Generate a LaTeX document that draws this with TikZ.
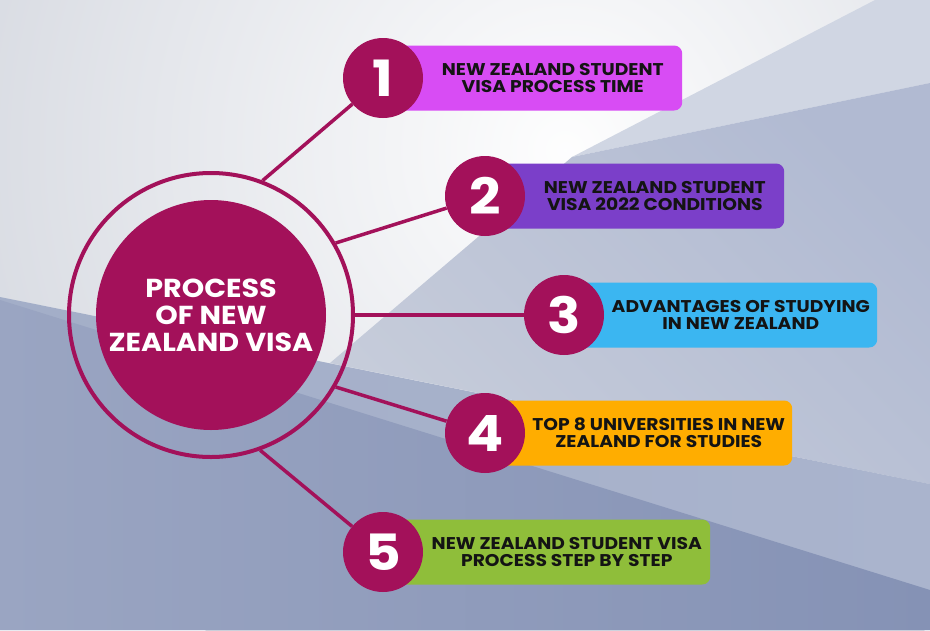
\documentclass[tikz,border=0pt]{standalone}
\usepackage{fontspec}
\setmainfont{Poppins}[FakeStretch=1.1]
\usepackage{xcolor}
\usetikzlibrary{positioning, calc}

\definecolor{ringc}{HTML}{A3115A}
\definecolor{box1}{HTML}{D84CF4}
\definecolor{box2}{HTML}{7B3FC9}
\definecolor{box3}{HTML}{3BB6F1}
\definecolor{box4}{HTML}{FFAD00}
\definecolor{box5}{HTML}{8FBE3A}
\definecolor{bgA}{HTML}{D9DCE3}
\definecolor{bgB}{HTML}{D0D6E3}
\definecolor{bgH}{HTML}{C6CCDA}
\definecolor{bgC}{HTML}{B1BAD2}
\definecolor{bgD}{HTML}{A3AEC8}
\definecolor{bgE}{HTML}{AAB4CD}
\definecolor{bgF}{HTML}{9AA5C2}
\definecolor{bgG}{HTML}{8592B5}

\begin{document}
\begin{tikzpicture}[x=1pt, y=-1pt,
    num/.style={circle, fill=ringc, minimum size=80pt, inner sep=0pt, text=white,
        font=\fontsize{50}{50}\selectfont\bfseries},
    tag/.style={rounded corners=8pt, minimum height=65pt, anchor=west, inner sep=0pt},
    tagtext/.style={align=center, inner sep=0pt, text=black!92,
        font=\fontsize{17}{16.7}\selectfont\bfseries},
    link/.style={draw=ringc, line width=3.5pt}]
    \useasboundingbox (0,0) rectangle (930,630);
    \begin{scope}
        \clip (0,0) rectangle (930,630);
        \fill[bgA] (0,0) rectangle (930,630);
        \shade[inner color=white!96!bgA, outer color=bgA] (565,150) circle (600);
        \fill[bgB] (572,157) -- (875,0) -- (930,0) -- (930,83) -- cycle;
        \shade[left color=bgH, right color=bgC, shading angle=135]
            (572,157) -- (930,83) -- (930,484) -- (330,363) -- cycle;
        \shade[left color=bgD, right color=bgE]
            (0,297) -- (930,484) -- (930,630) -- (0,630) -- cycle;
        \shade[left color=bgF, right color=bgG]
            (0,300) -- (930,590) -- (930,630) -- (0,630) -- cycle;
    \end{scope}

    \node[circle, draw=ringc, line width=4pt, minimum size=284pt] (ring) at (211,315) {};
    \node[circle, fill=ringc, minimum size=230pt, inner sep=0pt, text=white, align=center,
        font=\fontsize{26}{27}\selectfont\bfseries] (main) at (211,315) {PROCESS\\OF NEW\\ZEALAND VISA};

    \node[tag, fill=box1, minimum width=299pt] (t1) at (383,78) {};
    \node[tag, fill=box2, minimum width=299pt] (t2) at (485,196) {};
    \node[tag, fill=box3, minimum width=313pt] (t3) at (564,315) {};
    \node[tag, fill=box4, minimum width=307pt] (t4) at (485,433) {};
    \node[tag, fill=box5, minimum width=327pt] (t5) at (383,552) {};

    \node[num] (n1) at (383,78) {1};
    \node[num] (n2) at (485,196) {2};
    \node[num] (n3) at (564,315) {3};
    \node[num] (n4) at (485,433) {4};
    \node[num] (n5) at (383,552) {5};

    \node[tagtext] at ($(n1.east)!0.5!(t1.east)$) {NEW ZEALAND STUDENT\\VISA PROCESS TIME};
    \node[tagtext] at ($(n2.east)!0.5!(t2.east)$) {NEW ZEALAND STUDENT\\VISA 2022 CONDITIONS};
    \node[tagtext] at ($(n3.east)!0.5!(t3.east)$) {ADVANTAGES OF STUDYING\\IN NEW ZEALAND};
    \node[tagtext] at ($(n4.east)!0.5!(t4.east)$) {TOP 8 UNIVERSITIES IN NEW\\ZEALAND FOR STUDIES};
    \node[tagtext] at ($(n5.east)!0.5!(t5.east)$) {NEW ZEALAND STUDENT VISA\\PROCESS STEP BY STEP};

    \draw[link] (ring.69) -- (n1);
    \draw[link] (ring.30) -- (n2);
    \draw[link] (ring.0) -- (n3);
    \draw[link] (ring.-30) -- (n4);
    \draw[link] (ring.-70) -- (n5);
\end{tikzpicture}
\end{document}
